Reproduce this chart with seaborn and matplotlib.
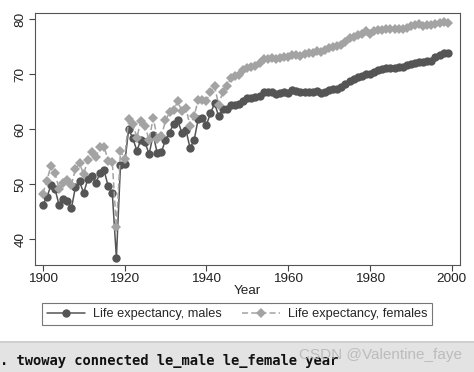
import matplotlib
matplotlib.use("Agg")
import matplotlib.pyplot as plt
import matplotlib.patches as mpatches
import numpy as np
import pandas as pd
import seaborn as sns

years = list(range(1900, 2000))

le_male = [
    46.3, 47.6, 49.8, 49.1, 46.2, 47.3, 46.9, 45.6, 49.5, 50.5,
    48.4, 50.9, 51.5, 50.3, 52.0, 52.5, 49.6, 48.4, 36.6, 53.5,
    53.6, 60.0, 58.4, 56.1, 58.1, 57.6, 55.5, 59.0, 55.6, 55.8,
    58.1, 59.4, 61.0, 61.7, 59.3, 59.9, 56.6, 58.0, 61.9, 62.1,
    60.8, 62.9, 64.7, 62.4, 63.6, 63.6, 64.4, 64.4, 64.6, 65.2,
    65.6, 65.6, 65.8, 66.0, 66.7, 66.7, 66.7, 66.4, 66.6, 66.8,
    66.6, 67.1, 66.9, 66.7, 66.8, 66.8, 66.7, 67.0, 66.6, 66.8,
    67.1, 67.4, 67.4, 67.6, 68.2, 68.8, 69.1, 69.5, 69.6, 70.0,
    70.0, 70.4, 70.8, 71.0, 71.1, 71.1, 71.2, 71.4, 71.4, 71.7,
    71.8, 72.0, 72.3, 72.2, 72.4, 72.5, 73.1, 73.6, 73.8, 73.9,
]

le_female = [
    48.3, 50.6, 53.4, 52.0, 49.1, 50.2, 50.8, 49.9, 52.8, 53.8,
    51.8, 54.4, 55.9, 55.0, 56.8, 56.8, 54.3, 54.0, 42.2, 56.0,
    54.6, 61.8, 61.0, 58.5, 61.5, 60.6, 58.0, 62.1, 58.3, 58.7,
    61.6, 63.1, 63.5, 65.1, 63.3, 63.9, 60.6, 62.4, 65.3, 65.4,
    65.2, 66.8, 67.9, 64.4, 66.8, 67.9, 69.4, 69.7, 69.9, 70.7,
    71.1, 71.4, 71.6, 72.0, 72.8, 72.8, 72.9, 72.7, 72.9, 73.2,
    73.1, 73.6, 73.5, 73.4, 73.7, 73.8, 73.9, 74.3, 74.1, 74.4,
    74.7, 75.0, 75.1, 75.3, 75.9, 76.6, 76.8, 77.2, 77.3, 77.8,
    77.4, 77.8, 78.1, 78.1, 78.2, 78.2, 78.2, 78.3, 78.3, 78.5,
    78.8, 78.9, 79.1, 78.8, 79.0, 78.9, 79.1, 79.4, 79.5, 79.4,
]

x_ticks = [1900, 1920, 1940, 1960, 1980, 2000]
y_ticks = [40, 50, 60, 70, 80]
labels = ["Life expectancy, males", "Life expectancy, females"]
command = ". twoway connected le_male le_female year"
watermark = "CSDN @Valentine_faye"

df = pd.DataFrame({"year": years, "le_male": le_male, "le_female": le_female})

sns.set_theme(style="white")
plt.rcParams["font.family"] = ["Liberation Sans", "DejaVu Sans"]

fig = plt.figure(figsize=(4.74, 3.72), dpi=100)
ax = fig.add_axes([0.0738, 0.2876, 0.8967, 0.6774])

male_col = "#555555"
female_col = "#a3a3a3"

sns.lineplot(data=df, x="year", y="le_male", ax=ax, color=male_col,
             marker="o", markersize=6, markeredgewidth=0, linewidth=1.1,
             label=labels[0], legend=False)
sns.lineplot(data=df, x="year", y="le_female", ax=ax, color=female_col,
             marker="D", markersize=5.5, markeredgewidth=0, linewidth=1.1,
             linestyle="--", label=labels[1], legend=False)
ax.lines[1].set_dashes([4, 2])

ax.set_xlim(1898.1, 2002.0)
ax.set_ylim(35.3, 81.15)
ax.set_xticks(x_ticks)
ax.set_yticks(y_ticks)
ax.set_xticklabels([str(t) for t in x_ticks], fontsize=9.7, color="#222222")
ax.set_yticklabels([str(t) for t in y_ticks], fontsize=9.7, color="#222222",
                   rotation=90, va="center")
ax.set_xlabel("Year", fontsize=9.7, color="#222222", labelpad=0)
ax.set_ylabel("")
ax.tick_params(axis="both", which="major", direction="out", length=4,
               width=0.8, color="#444444", left=True, bottom=True, pad=2)
for side in ["left", "bottom", "top", "right"]:
    ax.spines[side].set_visible(True)
    ax.spines[side].set_linewidth(0.8)
    ax.spines[side].set_color("#555555")

handles, _ = ax.get_legend_handles_labels()
leg = fig.legend(handles, labels, loc="center", ncol=2,
                 bbox_to_anchor=(0.5, 0.155), fontsize=9.2, frameon=True,
                 fancybox=False, edgecolor="#555555", handlelength=3.0,
                 handletextpad=0.6, columnspacing=1.6, borderpad=0.4,
                 numpoints=1)
leg.get_frame().set_linewidth(0.8)

# bottom console strip
band = mpatches.Rectangle((0, 0), 1, 29 / 372, transform=fig.transFigure,
                          facecolor="#e3e3e3", edgecolor="none", zorder=0)
fig.patches.append(band)
line = mpatches.Rectangle((0, 29 / 372), 1, 2 / 372, transform=fig.transFigure,
                          facecolor="#cfcfcf", edgecolor="none", zorder=0)
fig.patches.append(line)
fig.text(0.0, 11 / 372, command, fontsize=9.9, fontweight="bold",
         family="DejaVu Sans Mono", color="#111111", va="center", ha="left")
fig.text(0.975, 17 / 372, watermark, fontsize=11, color="#b8b8b8",
         va="center", ha="right", alpha=0.9)

fig.savefig("out.png", dpi=100)
